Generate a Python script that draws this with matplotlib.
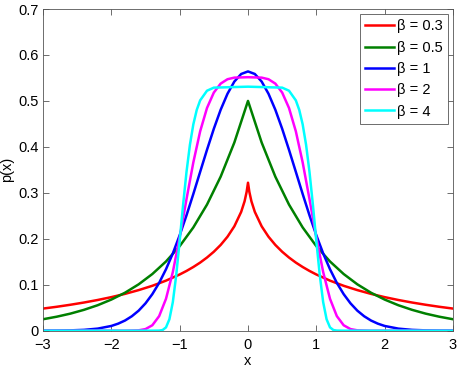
import numpy as np
import matplotlib
matplotlib.use("Agg")
import matplotlib.pyplot as plt

plt.rcParams['font.family'] = ['Liberation Sans', 'DejaVu Sans']

# Curves are symmetric about x = 0: values read for x >= 0, mirrored below.
x_b03 = [0, 0.02, 0.05, 0.1, 0.2, 0.3, 0.4, 0.5, 0.6, 0.7, 0.8, 0.9, 1.0,
         1.2, 1.4, 1.6, 1.8, 2.0, 2.2, 2.4, 2.6, 2.8, 3.0]
y_b03 = [0.322, 0.302, 0.2816, 0.2585, 0.2271, 0.2045, 0.1866, 0.1718, 0.1592,
         0.1482, 0.1386, 0.1300, 0.1223, 0.1089, 0.0977, 0.0883, 0.0801, 0.0730,
         0.0668, 0.0613, 0.0564, 0.0520, 0.0481]

x_b05 = [0, 0.2, 0.4, 0.6, 0.8, 1.0, 1.2, 1.4, 1.6, 1.8, 2.0, 2.2, 2.4, 2.6, 2.8, 3.0]
y_b05 = [0.5, 0.4094, 0.3352, 0.2744, 0.2247, 0.1839, 0.1506, 0.1233, 0.1009,
         0.0826, 0.0677, 0.0554, 0.0454, 0.0371, 0.0304, 0.0249]

x_b1 = [0, 0.1, 0.2, 0.3, 0.4, 0.5, 0.6, 0.7, 0.8, 0.9, 1.0, 1.1, 1.2, 1.3, 1.4,
        1.5, 1.6, 1.7, 1.8, 1.9, 2.0, 2.2, 2.4, 2.6, 2.8, 3.0]
y_b1 = [0.5642, 0.5586, 0.5421, 0.5156, 0.4808, 0.4394, 0.3936, 0.3457, 0.2975,
        0.2510, 0.2076, 0.1682, 0.1337, 0.1041, 0.0795, 0.0595, 0.0436, 0.0314,
        0.0221, 0.0153, 0.0103, 0.0045, 0.0018, 0.0007, 0.0002, 0.0001]

x_b2 = [0, 0.2, 0.3, 0.4, 0.5, 0.6, 0.7, 0.8, 0.9, 1.0, 1.1, 1.2, 1.3, 1.4,
        1.5, 1.6, 1.8, 3.0]
y_b2 = [0.5516, 0.5507, 0.5472, 0.5377, 0.5182, 0.4846, 0.4339, 0.3662, 0.2862,
        0.2029, 0.1276, 0.0694, 0.0317, 0.0118, 0.0035, 0.0008, 0.0, 0.0]

x_b4 = [0, 0.5, 0.6, 0.7, 0.75, 0.8, 0.85, 0.9, 0.95, 1.0, 1.05, 1.1, 1.15,
        1.2, 1.25, 1.3, 1.4, 3.0]
y_b4 = [0.5310, 0.5289, 0.5222, 0.5012, 0.4804, 0.4490, 0.4044, 0.3453, 0.2735,
        0.1953, 0.1212, 0.0622, 0.0249, 0.0072, 0.0014, 0.0002, 0.0, 0.0]

labels = ["β = 0.3", "β = 0.5", "β = 1", "β = 2", "β = 4"]
colors = ["#ff0000", "#008000", "#0000ff", "#ff00ff", "#00ffff"]
series = [(x_b03, y_b03), (x_b05, y_b05), (x_b1, y_b1), (x_b2, y_b2), (x_b4, y_b4)]


def mirror(xs, ys):
    xs = np.asarray(xs, dtype=float)
    ys = np.asarray(ys, dtype=float)
    return (np.concatenate([-xs[::-1], xs[1:]]),
            np.concatenate([ys[::-1], ys[1:]]))


fig = plt.figure(figsize=(4.74, 3.68), dpi=100)
ax = fig.add_axes([0.0907, 0.1014, 0.8650, 0.8741])

for (xs, ys), lab, col in zip(series, labels, colors):
    xf, yf = mirror(xs, ys)
    ax.plot(xf, yf, color=col, linewidth=1.8, label=lab)

ax.set_xlim(-3, 3)
ax.set_ylim(0, 0.7)
ax.set_xticks(np.arange(-3, 4, 1))
ax.set_xticklabels(["\u22123", "\u22122", "\u22121", "0", "1", "2", "3"])
ax.set_yticks(np.arange(0, 0.71, 0.1))
ax.set_yticklabels(["0", "0.1", "0.2", "0.3", "0.4", "0.5", "0.6", "0.7"])
ax.tick_params(direction="in", top=True, right=True, labelsize=10.5,
               length=4, width=0.6, color="#555555", pad=3)
ax.tick_params(axis="x", pad=5)
for sp in ax.spines.values():
    sp.set_color("#555555")
    sp.set_linewidth(0.6)
ax.set_xlabel("x", fontsize=10.5, labelpad=2)
ax.set_ylabel("p(x)", fontsize=10.5, labelpad=3)

leg = ax.legend(loc="upper right", fontsize=10.5, handlelength=2.0,
                handletextpad=0.2, labelspacing=0.5, borderpad=0.36,
                borderaxespad=0.35, fancybox=False, framealpha=1)
leg.get_frame().set_edgecolor("#555555")
leg.get_frame().set_linewidth(0.6)

fig.savefig("out.png", dpi=100)
